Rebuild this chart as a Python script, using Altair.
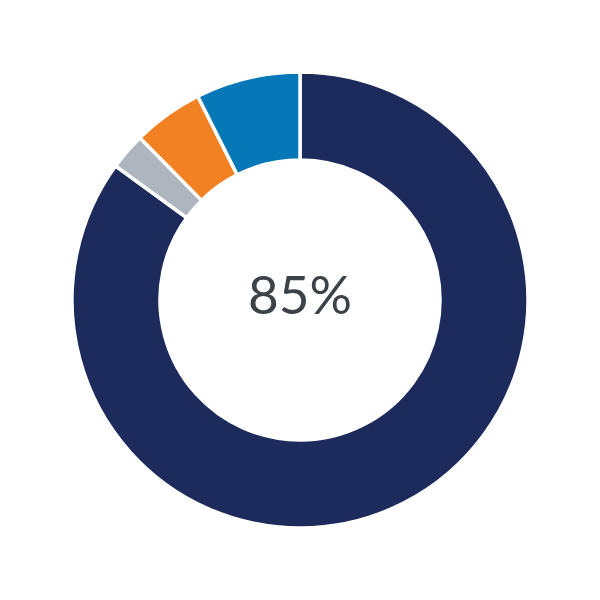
import altair as alt
import pandas as pd

categories = ["A", "B", "C", "D"]
values = [85, 2.6, 5.0, 7.4]
colors = ["#1c2b5b", "#adb5bf", "#f18122", "#0677b7"]
order = [0, 1, 2, 3]
center_label = ["85%"]

df = pd.DataFrame({"cat": categories, "value": values, "ord": order})

arc = alt.Chart(df).mark_arc(
    innerRadius=140, outerRadius=228, stroke="white", strokeWidth=3.5
).encode(
    theta=alt.Theta("value:Q", stack=True),
    order=alt.Order("ord:Q"),
    color=alt.Color("cat:N", scale=alt.Scale(domain=categories, range=colors), legend=None),
)

text = alt.Chart(pd.DataFrame({"t": center_label})).mark_text(
    font="Lato", fontSize=53, fontWeight=400, color="#3b4248", baseline="middle", align="center"
).encode(
    text="t:N",
    x=alt.value(230),
    y=alt.value(228),
)

chart = alt.layer(arc, text).properties(
    width=460, height=460,
    padding={"left": 57, "top": 57, "right": 0, "bottom": 0},
).configure_view(stroke=None)

chart.save("out.html", embed_options={"renderer": "svg", "actions": False})
